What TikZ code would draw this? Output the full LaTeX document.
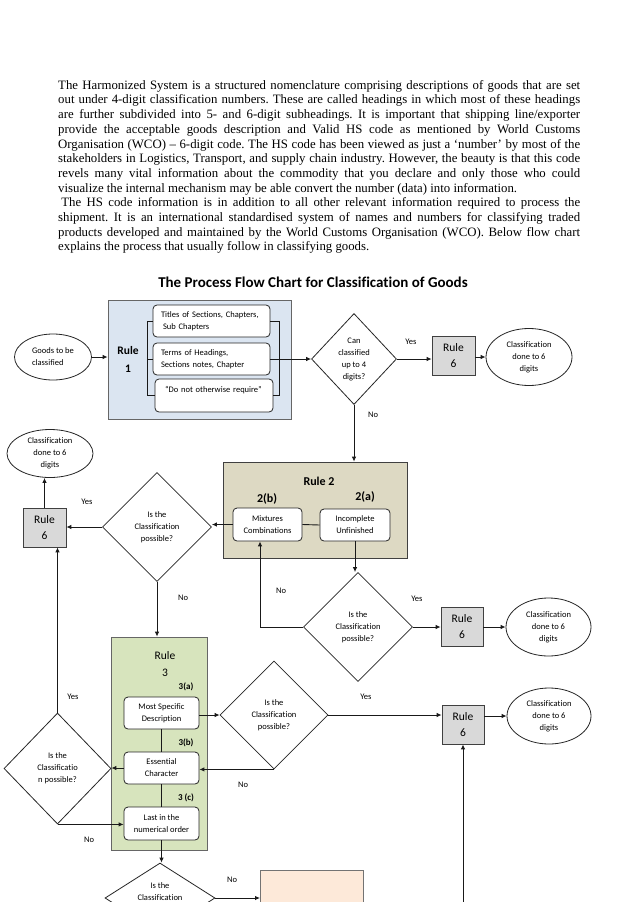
\documentclass[tikz,border=0pt]{standalone}
\usepackage{fontspec}
\setmainfont{Liberation Serif}
\newfontfamily\calfont[Ligatures={NoCommon}]{Carlito}
\usetikzlibrary{shapes.geometric,arrows.meta}
\definecolor{blueF}{RGB}{219,229,241}
\definecolor{tanF}{RGB}{221,217,195}
\definecolor{greenF}{RGB}{215,228,189}
\definecolor{grayF}{RGB}{217,217,217}
\definecolor{peachF}{RGB}{253,233,217}
\frenchspacing
\begin{document}
\begin{tikzpicture}[x=1pt,y=-1pt,
  lab/.style={font=\calfont\fontsize{8.5}{12}\selectfont, inner sep=0pt, align=center},
  rbx/.style={draw=black!85, rounded corners=4pt, fill=white, line width=0.8pt, inner sep=0pt, align=center, lab},
  rsix/.style={draw=black!75, fill=grayF, line width=0.8pt, inner sep=0pt, align=center,
    font=\calfont\fontsize{11.5}{16}\selectfont, minimum width=43pt, minimum height=39pt},
  dia/.style={diamond, draw=black!85, line width=0.8pt, inner sep=0pt, lab},
  ell/.style={ellipse, draw=black!85, line width=0.8pt, inner sep=0pt, lab},
  arr/.style={-{Latex[length=5pt,width=4.5pt]}, line width=0.9pt, draw=black!90},
  con/.style={line width=0.9pt, draw=black!90},
  bigbox/.style={draw=black!60, line width=0.8pt, inner sep=0pt},
  yn/.style={lab}
]
\clip (0,0) rectangle (638,902);
\fill[white] (0,0) rectangle (638,902);

% paragraph
\node[anchor=north west, inner sep=0pt, text width=522pt, align=justify,
  font=\fontsize{12.8}{14.7}\selectfont] (para) at (58,80)
{The Harmonized System is a structured nomenclature comprising descriptions of goods that are set\linebreak
out under 4-digit classification numbers. These are called headings in which most of these headings\linebreak
are further subdivided into 5- and 6-digit subheadings. It is important that shipping line/exporter\linebreak
provide the acceptable goods description and Valid HS code as mentioned by World Customs\linebreak
Organisation (WCO) – 6-digit code. The HS code has been viewed as just a ‘number’ by most of the\linebreak
stakeholders in Logistics, Transport, and supply chain industry. However, the beauty is that this code\linebreak
revels many vital information about the commodity that you declare and only those who could\linebreak
visualize the internal mechanism may be able convert the number (data) into information.\par
\hspace*{0.25em}The HS code information is in addition to all other relevant information required to process the\linebreak
shipment. It is an international standardised system of names and numbers for classifying traded\linebreak
products developed and maintained by the World Customs Organisation (WCO). Below flow chart\linebreak
explains the process that usually follow in classifying goods.\par};

% title
\node[font=\calfont\bfseries\fontsize{15}{18}\selectfont, inner sep=0pt] (title) at (313,282)
  {The Process Flow Chart for Classification of Goods};

% ---------- Rule 1 ----------
\node[ell, minimum width=77pt, minimum height=46pt, align=left] (goods) at (53,357) {Goods to be\\classified};
\node[bigbox, fill=blueF, minimum width=183pt, minimum height=119pt] (r1) at (199.5,359.5) {};
\node[font=\calfont\bfseries\fontsize{11.5}{18}\selectfont, align=center, inner sep=0pt] (r1t) at (128,359) {Rule\\1};
\node[rbx, text width=101pt, inner xsep=8pt, minimum height=32pt, align=left] (ba) at (211.5,321)
  {Titles of Sections, Chapters,\\\hspace*{2pt}Sub Chapters};
\node[rbx, text width=101pt, inner xsep=8pt, minimum height=32pt, align=left] (bb) at (211.5,359)
  {Terms of Headings,\\Sections notes, Chapter};
\node[rbx, text width=98pt, inner xsep=10pt, minimum height=33pt, align=left] (bc) at (214,395.5)
  {“Do not otherwise require”\\\mbox{}};
\draw[con] (ba.east) -- ++(9,0) |- (bc.east);
\draw[con] (ba.west) -- ++(-5,0) |- (bc.west);
\draw[con] (bb.west) -- ++(-5,0);
\draw[arr] (goods.east) -- (goods.east -| r1.west);

\node[dia, minimum width=85pt, minimum height=91pt] (d1) at (354,359) {Can\\classified\\up to 4\\digits?};
\draw[arr] (bb.east) -- (d1.west);
\node[rsix] (r6a) at (453.5,355.5) {Rule\\6};
\node[ell, minimum width=86pt, minimum height=57pt] (e1) at (529,357) {Classification\\done to 6\\digits};
\draw[arr] (d1.east) -- (d1.east -| r6a.west);
\draw[arr] (r6a.east |- e1.west) -- (e1.west);
\node[yn] (y1) at (411,342) {Yes};
\node[yn] (n1) at (373,415) {No};

% ---------- Rule 2 ----------
\node[bigbox, draw=black!75, fill=tanF, minimum width=184pt, minimum height=96pt] (r2) at (315,510) {};
\draw[arr] (d1.south) -- (d1.south |- r2.north);
\node[font=\calfont\bfseries\fontsize{12}{14}\selectfont, inner sep=0pt] (r2t) at (319,481) {Rule 2};
\node[font=\calfont\bfseries\fontsize{12}{14}\selectfont, inner sep=0pt] (r2b) at (267,499) {2(b)};
\node[font=\calfont\bfseries\fontsize{12}{14}\selectfont, inner sep=0pt] (r2a) at (365,497) {2(a)};
\node[rbx, minimum width=69pt, minimum height=33pt] (mx) at (267.5,524.5) {Mixtures\\Combinations};
\node[rbx, minimum width=70pt, minimum height=32pt] (inc) at (355,525) {Incomplete\\Unfinished};
\draw[con] (mx.east) -- (inc.west);

\node[dia, minimum width=109pt, minimum height=109pt] (d2) at (157,527) {Is the\\Classification\\possible?};
\draw[arr] (mx.west) -- (mx.west -| d2.east);
\node[rsix] (r6b) at (44.5,527.5) {Rule\\6};
\draw[arr] (d2.west) -- (d2.west -| r6b.east);
\node[ell, minimum width=86pt, minimum height=48pt] (e2) at (50,453.5) {Classification\\done to 6\\digits};
\draw[arr] (r6b.north) -- (r6b.north |- e2.south);
\node[yn] (y2) at (87,502) {Yes};
\node[yn] (n2) at (183,598) {No};

\node[dia, minimum width=109pt, minimum height=109pt] (d3) at (358,627) {Is the\\Classification\\possible?};
\draw[arr] (inc.south) -- (inc.south |- d3.north);
\node[rsix, minimum width=42pt] (r6c) at (462,626.5) {Rule\\6};
\node[ell, minimum width=85pt, minimum height=58pt] (e3) at (548.5,627) {Classification\\done to 6\\digits};
\draw[arr] (d3.east) -- (d3.east -| r6c.west);
\draw[arr] (r6c.east |- e3.west) -- (e3.west);
\draw[arr] (d3.west) -| ([xshift=-7.5pt]mx.south);
\node[yn] (y3) at (417,599) {Yes};
\node[yn] (n3) at (281,591) {No};

% ---------- Rule 3 ----------
\node[bigbox, fill=greenF, minimum width=96pt, minimum height=213pt] (r3) at (159,743.5) {};
\draw[arr] (d2.south) -- (d2.south |- r3.north);
\node[font=\calfont\fontsize{11.5}{17}\selectfont, align=center, inner sep=0pt] (r3t) at (165,664) {Rule\\3};
\node[font=\calfont\bfseries\fontsize{9}{11}\selectfont, inner sep=0pt] (r3a) at (186,687) {3(a)};
\node[font=\calfont\bfseries\fontsize{9}{11}\selectfont, inner sep=0pt] (r3b) at (186,743) {3(b)};
\node[font=\calfont\bfseries\fontsize{9}{11}\selectfont, inner sep=0pt] (r3c) at (186,798) {3 (c)};
\node[rbx, minimum width=75pt, minimum height=32pt] (ms) at (161.5,713) {Most Specific\\Description};
\node[rbx, minimum width=75pt, minimum height=32pt] (es) at (161.5,768) {Essential\\Character};
\node[rbx, minimum width=75pt, minimum height=33pt] (la) at (161.5,823.5) {Last in the\\numerical order};
\draw[con] (ms.south) -- (es.north);
\draw[con] (es.south) -- (la.north);

\node[dia, minimum width=108pt, minimum height=108pt] (d4) at (274,715) {Is the\\Classification\\possible?};
\draw[arr] (ms.east |- d4.west) -- (d4.west);
\node[rsix, minimum width=42pt] (r6d) at (463,724.5) {Rule\\6};
\node[ell, minimum width=84pt, minimum height=56pt] (e4) at (549,716) {Classification\\done to 6\\digits};
\draw[arr] (d4.east) -- (d4.east -| r6d.west);
\draw[arr] (r6d.east |- e4.west) -- (e4.west);
\draw[arr] (d4.south) -- (d4.south -| es.east);
\node[yn] (y4) at (366,697) {Yes};
\node[yn] (n4) at (243,785) {No};

\node[dia, minimum width=107pt, minimum height=111pt] (d5) at (57.5,768.5) {Is the\\Classificatio\\n possible?};
\draw[arr] (es.west) -- (es.west -| d5.east);
\draw[arr] (d5.north) -- (d5.north |- r6b.south);
\draw[arr] (d5.south) -- (d5.south -| la.west);
\node[yn] (y5) at (73,697) {Yes};
\node[yn] (n5) at (89,840) {No};

\node[dia, shape aspect=1.6, minimum width=110pt, minimum height=70pt] (d6) at (160,898) {Is the\\Classification\\possible?};
\draw[arr] (la.south) -- (la.south |- d6.north);
\node[bigbox, draw=black!55, fill=peachF, minimum width=103pt, minimum height=80pt, anchor=north west] (pb) at (260,870) {};
\draw[arr] (d6.east) -- (d6.east -| pb.west);
\node[yn] (n6) at (232,880) {No};

\coordinate (bot) at (463,912);
\draw[arr] (bot) -- (r6d.south);
\end{tikzpicture}
\end{document}
